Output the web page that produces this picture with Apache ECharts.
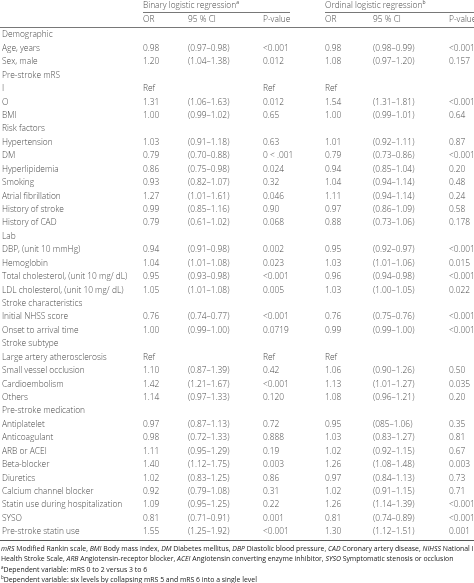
<!DOCTYPE html>
<html><head><meta charset="utf-8">
<script src="https://cdn.jsdelivr.net/npm/echarts@6/dist/echarts.min.js"></script>
<style>html,body{margin:0;padding:0;background:#fff}#c{width:474px;height:583px}</style>
</head><body><div id="c"></div>
<script>
const rowLabels=["Demographic","Age, years","Sex, male","Pre-stroke mRS","I","O","BMI","Risk factors","Hypertension","DM","Hyperlipidemia","Smoking","Atrial fibrillation","History of stroke","History of CAD","Lab","DBP, (unit 10 mmHg)","Hemoglobin","Total cholesterol, (unit 10 mg/ dL)","LDL cholesterol, (unit 10 mg/ dL)","Stroke characteristics","Initial NHSS score","Onset to arrival time","Stroke subtype","Large artery atherosclerosis","Small vessel occlusion","Cardioembolism","Others","Pre-stroke medication","Antiplatelet","Anticoagulant","ARB or ACEI","Beta-blocker","Diuretics","Calcium channel blocker","Statin use during hospitalization","SYSO","Pre-stroke statin use"];
const orBinary=["","0.98","1.20","","Ref","1.31","1.00","","1.03","0.79","0.86","0.93","1.27","0.99","0.79","","0.94","1.04","0.95","1.05","","0.76","1.00","","Ref","1.10","1.42","1.14","","0.97","0.98","1.11","1.40","1.02","0.92","1.09","0.81","1.55"];
const ciBinary=["","(0.97–0.98)","(1.04–1.38)","","","(1.06–1.63)","(0.99–1.02)","","(0.91–1.18)","(0.70–0.88)","(0.75–0.98)","(0.82–1.07)","(1.01–1.61)","(0.85–1.16)","(0.61–1.02)","","(0.91–0.98)","(1.01–1.08)","(0.93–0.98)","(1.01–1.08)","","(0.74–0.77)","(0.99–1.00)","","","(0.87–1.39)","(1.21–1.67)","(0.97–1.33)","","(0.87–1.13)","(0.72–1.33)","(0.95–1.29)","(1.12–1.75)","(0.83–1.25)","(0.79–1.08)","(0.95–1.25)","(0.71–0.91)","(1.25–1.92)"];
const pBinary=["","<0.001","0.012","","Ref","0.012","0.65","","0.63","0 < .001","0.024","0.32","0.046","0.90","0.068","","0.002","0.023","<0.001","0.005","","<0.001","0.0719","","Ref","0.42","<0.001","0.120","","0.72","0.888","0.19","0.003","0.86","0.31","0.22","0.001","<0.001"];
const orOrdinal=["","0.98","1.08","","Ref","1.54","1.00","","1.01","0.79","0.94","1.04","1.11","0.97","0.88","","0.95","1.03","0.96","1.03","","0.76","0.99","","Ref","1.06","1.13","1.08","","0.95","1.03","1.02","1.26","0.97","1.02","1.26","0.81","1.30"];
const ciOrdinal=["","(0.98–0.99)","(0.97–1.20)","","","(1.31–1.81)","(0.99–1.01)","","(0.92–1.11)","(0.73–0.86)","(0.85–1.04)","(0.94–1.14)","(0.94–1.14)","(0.86–1.09)","(0.73–1.06)","","(0.92–0.97)","(1.01–1.06)","(0.94–0.98)","(1.00–1.05)","","(0.75–0.76)","(0.99–1.00)","","","(0.90–1.26)","(1.01–1.27)","(0.96–1.21)","","(085–1.06)","(0.83–1.27)","(0.92–1.15)","(1.08–1.48)","(0.84–1.13)","(0.91–1.15)","(1.14–1.39)","(0.74–0.89)","(1.12–1.51)"];
const pOrdinal=["","<0.001","0.157","","","<0.001","0.64","","0.87","<0.001","0.20","0.48","0.24","0.58","0.178","","<0.001","0.015","<0.001","0.022","","<0.001","<0.001","","","0.50","0.035","0.20","","0.35","0.81","0.67","0.003","0.73","0.71","<0.001","<0.001","0.001"];
const groupHeaders=["Binary logistic regression","Ordinal logistic regression"];
const groupSup=["a","b"];
const colHeaders=["OR","95 % CI","P-value","OR","95 % CI","P-value"];
const footnotes=[
 [["i","mRS"],["n"," Modified Rankin scale, "],["i","BMI"],["n"," Body mass index, "],["i","DM"],["n"," Diabetes mellitus, "],["i","DBP"],["n"," Diastolic blood pressure, "],["i","CAD"],["n"," Coronary artery disease, "],["i","NIHSS"],["n"," National Institutes of"]],
 [["n","Health Stroke Scale, "],["i","ARB"],["n"," Angiotensin-receptor blocker, "],["i","ACEI"],["n"," Angiotensin converting enzyme inhibitor, "],["i","SYSO"],["n"," Symptomatic stenosis or occlusion"]],
 [["s","a"],["n","Dependent variable: mRS 0 to 2 versus 3 to 6"]],
 [["s","b"],["n","Dependent variable: six levels by collapsing mRS 5 and mRS 6 into a single level"]]
];
const FONT='"Open Sans", "Noto Sans", sans-serif';
const C='#4a4a4a';
const colX=[2,143,188,263,325,373,449];
const top0=35, step=13.43;
const g=[];
function t(x,y,s,size){g.push({type:'text',x:x,y:y,style:{text:s,font:'300 '+(size||8.4)+'px '+FONT,fill:C,textVerticalAlign:'middle'}});}
function line(x1,x2,y,w){g.push({type:'line',shape:{x1:x1,y1:y,x2:x2,y2:y},style:{stroke:'#555',lineWidth:w||0.8}});}
groupHeaders.forEach((h,i)=>{
  const x=i?325:143;
  g.push({type:'text',x:x,y:6,style:{text:'{n|'+h+'}{s|'+groupSup[i]+'}',fill:C,textVerticalAlign:'middle',rich:{n:{font:'300 8.4px '+FONT,fill:C},s:{font:'5px '+FONT,fill:C,verticalAlign:'top',padding:[0,0,6,0]}}}});
});
line(143,290,12.5);line(325,474,12.5);
colHeaders.forEach((h,i)=>t(colX[i+1],20,h));
line(0,474,27.5);
const cols=[orBinary,ciBinary,pBinary,orOrdinal,ciOrdinal,pOrdinal];
rowLabels.forEach((lab,r)=>{
  const y=top0+r*step;
  t(colX[0],y,lab);
  cols.forEach((arr,c)=>{if(arr[r])t(colX[c+1],y,arr[r]);});
});
line(0,474,540.5,1);
footnotes.forEach((parts,i)=>{
  const txt=parts.map(p=>'{'+p[0]+'|'+p[1].replace(/[{}|]/g,'')+'}').join('');
  g.push({type:'text',x:1,y:549+i*10.5,style:{text:txt,fill:'#222',textVerticalAlign:'middle',rich:{
    n:{font:'6.9px '+FONT,fill:'#222'},i:{font:'italic 6.9px '+FONT,fill:'#222'},s:{font:'4.5px '+FONT,fill:'#222',verticalAlign:'top',padding:[0,0,5,0]}}}});
});
const chart=echarts.init(document.getElementById('c'),null,{renderer:'canvas'});
chart.setOption({animation:false,backgroundColor:'#fff',graphic:{elements:g}});
</script></body></html>
